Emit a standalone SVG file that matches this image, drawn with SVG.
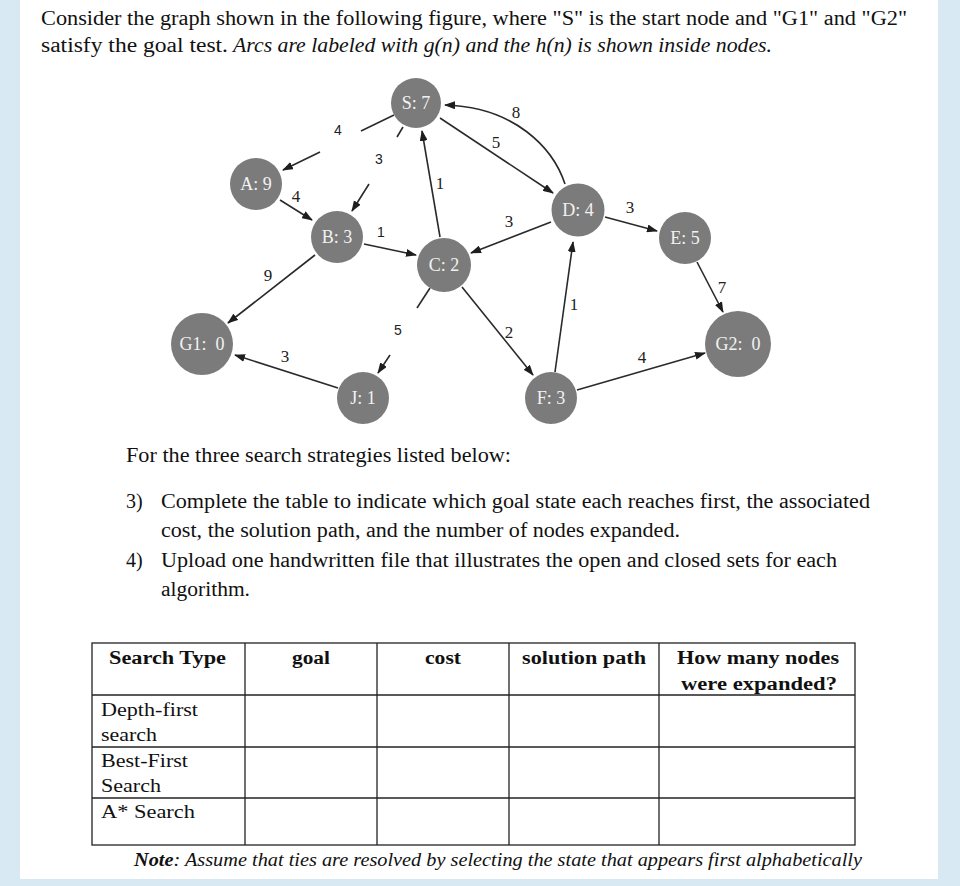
<svg xmlns="http://www.w3.org/2000/svg" width="960" height="886" viewBox="0 0 960 886">
<style>
.t{font-family:"Liberation Serif","Times New Roman",serif;fill:#111;}
.p{font-size:20px;}
.b{font-weight:bold;}
.i{font-style:italic;}
.th{font-size:18px;}
.node circle{fill:#7b7b7b;}
.node text{font-family:"Liberation Serif",serif;font-size:18px;fill:#f2f2f2;text-anchor:middle;}
.e{stroke:#2a2a2a;stroke-width:1.6;fill:none;}
.a{marker-end:url(#ah);}
.lbl{font-family:"Liberation Serif",serif;font-size:17px;fill:#222;text-anchor:middle;}
.ls{font-family:"Liberation Sans",Arial,sans-serif;font-size:14px;fill:#222;text-anchor:middle;}
.grid{stroke:#222;stroke-width:1.3;fill:none;}
</style>
<defs>
<marker id="ah" markerWidth="11" markerHeight="8" refX="10" refY="4" orient="auto" markerUnits="userSpaceOnUse">
<path d="M0,0 L11,4 L0,8 Z" fill="#1e1e1e"/>
</marker>
</defs>
<rect x="0" y="0" width="960" height="886" fill="#d9e9f4"/>
<rect x="20" y="0" width="918" height="879" fill="#ffffff"/>

<g id="header">
<text class="t p" x="41" y="25" textLength="866" lengthAdjust="spacingAndGlyphs">Consider the graph shown in the following figure, where "S" is the start node and "G1" and "G2"</text>
<text class="t p" x="41" y="52" textLength="187" lengthAdjust="spacingAndGlyphs">satisfy the goal test.</text>
<text class="t p i" x="233" y="52" textLength="539" lengthAdjust="spacingAndGlyphs">Arcs are labeled with g(n) and the h(n) is shown inside nodes.</text>
</g>

<g id="connectors">
<!-- S -> A (gap) -->
<line class="e" x1="394" y1="115" x2="361" y2="131"/>
<line class="e a" x1="320" y1="152" x2="283" y2="170"/>
<text class="ls" x="338" y="135">4</text>
<!-- S -> B (gap) -->
<line class="e" x1="403" y1="127" x2="397" y2="137"/>
<line class="e a" x1="369" y1="184" x2="352" y2="211"/>
<text class="ls" x="379" y="164">3</text>
<!-- A -> B -->
<line class="e a" x1="280" y1="200" x2="312" y2="220"/>
<text class="lbl" x="296" y="202">4</text>
<!-- B -> C -->
<line class="e a" x1="364" y1="244" x2="416" y2="255"/>
<text class="ls" x="381" y="237">1</text>
<!-- C -> S -->
<line class="e a" x1="440" y1="237" x2="422" y2="131"/>
<text class="lbl" x="440" y="189">1</text>
<!-- S -> D -->
<line class="e a" x1="440" y1="118" x2="553" y2="193"/>
<text class="lbl" x="496" y="148">5</text>
<!-- D -> S curved -->
<path class="e a" d="M565,184 C553,148 515,107 445,105"/>
<text class="lbl" x="516" y="118">8</text>
<!-- D -> C -->
<line class="e a" x1="551" y1="222" x2="471" y2="253"/>
<text class="lbl" x="509" y="227">3</text>
<!-- D -> E -->
<line class="e a" x1="605" y1="217" x2="657" y2="231"/>
<text class="lbl" x="630" y="213">3</text>
<!-- E -> G2 -->
<line class="e a" x1="697" y1="262" x2="723" y2="312"/>
<text class="lbl" x="722" y="293">7</text>
<!-- F -> G2 -->
<line class="e a" x1="577" y1="390" x2="705" y2="353"/>
<text class="lbl" x="642" y="363">4</text>
<!-- F -> D -->
<line class="e a" x1="555" y1="372" x2="573" y2="242"/>
<text class="lbl" x="574" y="310">1</text>
<!-- C -> F -->
<line class="e a" x1="462" y1="287" x2="533" y2="375"/>
<text class="lbl" x="509" y="338">2</text>
<!-- B -> G1 -->
<line class="e a" x1="315" y1="255" x2="228" y2="323"/>
<text class="lbl" x="268" y="281">9</text>
<!-- J -> G1 -->
<line class="e a" x1="338" y1="388" x2="235" y2="355"/>
<text class="lbl" x="285" y="362">3</text>
<!-- C -> J (gap) -->
<line class="e" x1="430" y1="288" x2="417" y2="308"/>
<line class="e a" x1="390" y1="355" x2="378" y2="373"/>
<text class="ls" x="398" y="335">5</text>
</g>

<g id="node-S" class="node"><circle cx="416" cy="103" r="25"/><text x="416" y="109">S: 7</text></g>
<g id="node-A" class="node"><circle cx="256" cy="184" r="26"/><text x="256" y="190">A: 9</text></g>
<g id="node-B" class="node"><circle cx="337" cy="237" r="26"/><text x="337" y="243">B: 3</text></g>
<g id="node-C" class="node"><circle cx="444" cy="265" r="27"/><text x="444" y="271">C: 2</text></g>
<g id="node-D" class="node"><circle cx="578" cy="210" r="26.5"/><text x="578" y="216">D: 4</text></g>
<g id="node-E" class="node"><circle cx="685" cy="238" r="26"/><text x="685" y="244">E: 5</text></g>
<g id="node-G1" class="node"><circle cx="202" cy="344" r="31"/><text x="202" y="350" xml:space="preserve">G1:  0</text></g>
<g id="node-G2" class="node"><circle cx="738" cy="344" r="33"/><text x="738" y="350" xml:space="preserve">G2:  0</text></g>
<g id="node-J" class="node"><circle cx="363" cy="398" r="26"/><text x="363" y="404">J: 1</text></g>
<g id="node-F" class="node"><circle cx="551" cy="398" r="26"/><text x="551" y="404">F: 3</text></g>

<g id="instructions">
<text class="t p" x="126" y="462" textLength="385" lengthAdjust="spacingAndGlyphs">For the three search strategies listed below:</text>
<text class="t p" x="126" y="508">3)</text>
<text class="t p" x="161" y="508" textLength="709" lengthAdjust="spacingAndGlyphs">Complete the table to indicate which goal state each reaches first, the associated</text>
<text class="t p" x="161" y="537" textLength="519" lengthAdjust="spacingAndGlyphs">cost, the solution path, and the number of nodes expanded.</text>
<text class="t p" x="126" y="567">4)</text>
<text class="t p" x="161" y="567" textLength="676" lengthAdjust="spacingAndGlyphs">Upload one handwritten file that illustrates the open and closed sets for each</text>
<text class="t p" x="161" y="596" textLength="89" lengthAdjust="spacingAndGlyphs">algorithm.</text>
</g>

<g id="table">
<rect class="grid" x="92" y="643" width="763" height="202"/>
<line class="grid" x1="92" y1="695" x2="855" y2="695"/>
<line class="grid" x1="92" y1="747" x2="855" y2="747"/>
<line class="grid" x1="92" y1="798" x2="855" y2="798"/>
<line class="grid" x1="245" y1="643" x2="245" y2="845"/>
<line class="grid" x1="377" y1="643" x2="377" y2="845"/>
<line class="grid" x1="509" y1="643" x2="509" y2="845"/>
<line class="grid" x1="659" y1="643" x2="659" y2="845"/>
<text class="t th b" x="109" y="664" textLength="117" lengthAdjust="spacingAndGlyphs">Search Type</text>
<text class="t th b" x="292" y="664" textLength="38" lengthAdjust="spacingAndGlyphs">goal</text>
<text class="t th b" x="425" y="664" textLength="36" lengthAdjust="spacingAndGlyphs">cost</text>
<text class="t th b" x="522" y="664" textLength="124" lengthAdjust="spacingAndGlyphs">solution path</text>
<text class="t th b" x="677" y="664" textLength="162" lengthAdjust="spacingAndGlyphs">How many nodes</text>
<text class="t th b" x="681" y="690" textLength="156" lengthAdjust="spacingAndGlyphs">were expanded?</text>
<text class="t th" x="101" y="716" textLength="97" lengthAdjust="spacingAndGlyphs">Depth-first</text>
<text class="t th" x="101" y="741" textLength="56" lengthAdjust="spacingAndGlyphs">search</text>
<text class="t th" x="101" y="767" textLength="87" lengthAdjust="spacingAndGlyphs">Best-First</text>
<text class="t th" x="101" y="792" textLength="60" lengthAdjust="spacingAndGlyphs">Search</text>
<text class="t th" x="101" y="818" textLength="94" lengthAdjust="spacingAndGlyphs">A* Search</text>
</g>

<g id="note">
<text class="t th i" x="134" y="866" textLength="728" lengthAdjust="spacingAndGlyphs"><tspan class="b">Note</tspan>: Assume that ties are resolved by selecting the state that appears first alphabetically</text>
</g>
</svg>
